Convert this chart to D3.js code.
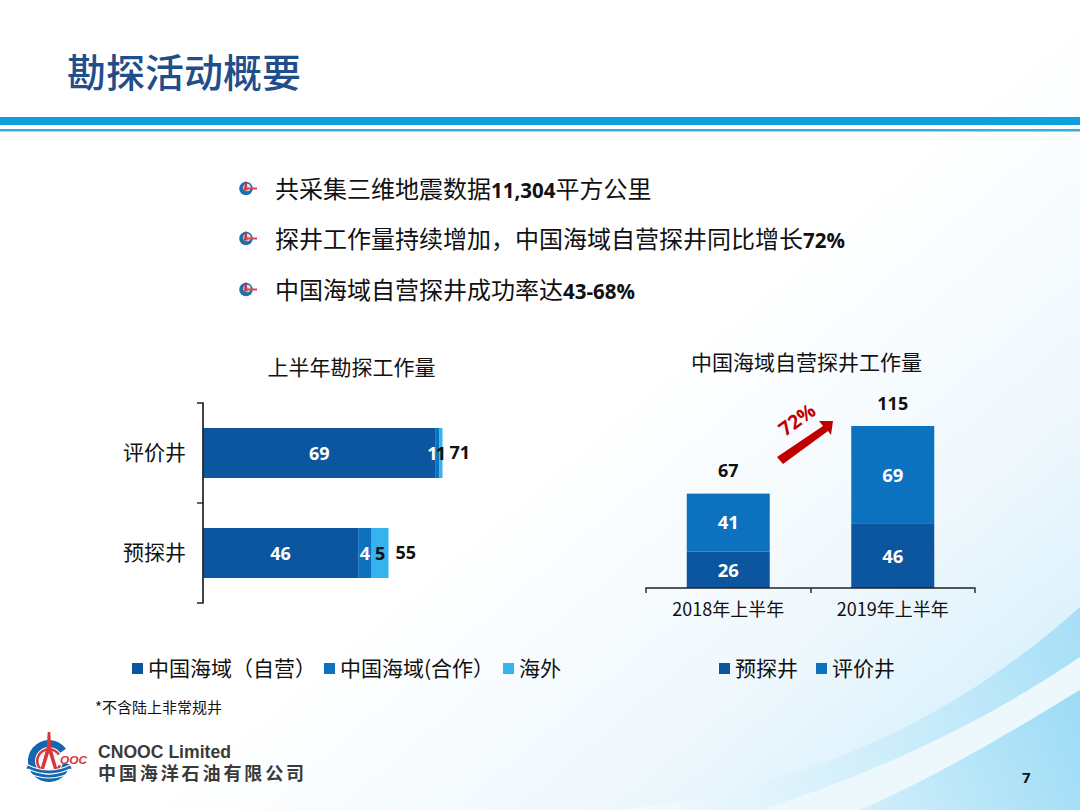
<!DOCTYPE html>
<html><head><meta charset="utf-8">
<script src="https://cdn.jsdelivr.net/npm/d3@7"></script>
<style>
html,body{margin:0;padding:0;background:#fff;overflow:hidden}
svg{display:block}
text{font-family:"Noto Sans CJK SC",sans-serif}
.num{font-family:"Open Sans",sans-serif;font-weight:700}
</style></head><body>
<svg id="slide" width="1080" height="810"></svg>
<script>
const slideTitle = "勘探活动概要";
const bulletParts = [
  [["共采集三维地震数据", false], ["11,304", true], ["平方公里", false]],
  [["探井工作量持续增加，中国海域自营探井同比增长", false], ["72%", true]],
  [["中国海域自营探井成功率达", false], ["43-68%", true]]
];
const hCategories = ["评价井", "预探井"];
const hSeriesNames = ["中国海域（自营）", "中国海域(合作）", "海外"];
const hOwn = [69, 46];
const hPartner = [1, 4];
const hOverseas = [1, 5];
const hTotals = [71, 55];
const vCategories = ["2018年上半年", "2019年上半年"];
const vSeriesNames = ["预探井", "评价井"];
const vExploration = [26, 46];
const vAppraisal = [41, 69];
const vTotals = [67, 115];
const growthLabel = "72%";
const footnote = "*不含陆上非常规井";
const colors = ["#0C56A0", "#0C72C0", "#36B2EC"];

const svg = d3.select("#slide");
const defs = svg.append("defs");

// Slide backdrop
const bg = defs.append("linearGradient").attr("id","bg").attr("x1","0.15").attr("y1","0.2").attr("x2","1").attr("y2","0.95");
[[0,"#ffffff"],[0.45,"#ffffff"],[0.72,"#f0f8fd"],[1,"#cfeefb"]].forEach(([o,c])=>bg.append("stop").attr("offset",o).attr("stop-color",c));
svg.append("rect").attr("width",1080).attr("height",810).attr("fill","url(#bg)");

const sw = defs.append("linearGradient").attr("id","sw").attr("gradientUnits","userSpaceOnUse")
  .attr("x1",560).attr("y1",810).attr("x2",1080).attr("y2",640);
[[0,"#ffffff"],[0.3,"#e6f5fc"],[0.7,"#c6ebfa"],[1,"#a8dff7"]].forEach(([o,c])=>sw.append("stop").attr("offset",o).attr("stop-color",c));
svg.append("path").attr("d","M1080,607 C970,705 830,785 620,810 L1080,810 Z").attr("fill","url(#sw)");
svg.append("path").attr("d","M1080,657 C980,725 870,775 760,810 L860,810 C930,780 1010,733 1080,690 Z").attr("fill","#edf8fd");
const sw2 = defs.append("linearGradient").attr("id","sw2").attr("gradientUnits","userSpaceOnUse")
  .attr("x1",860).attr("y1",810).attr("x2",1080).attr("y2",720);
[[0,"#d2effb"],[1,"#9edcf6"]].forEach(([o,c])=>sw2.append("stop").attr("offset",o).attr("stop-color",c));
svg.append("path").attr("d","M1080,690 C1010,733 930,780 860,810 L1080,810 Z").attr("fill","url(#sw2)");

// Header rules
svg.append("rect").attr("y",117).attr("width",1080).attr("height",8).attr("fill","#0E9FDC");
svg.append("rect").attr("y",129).attr("width",1080).attr("height",2.5).attr("fill","#35AEE0");
svg.append("text").attr("x",67).attr("y",87).attr("font-size",39).attr("font-weight",500).attr("fill","#1F4E8B").text(slideTitle);

// Bullets: a miniature of the company mark
const bulletY = [198, 248, 299];
bulletParts.forEach((parts,i)=>{
  const b = svg.append("g").attr("transform",`translate(246,${bulletY[i]-9.5})`);
  b.append("circle").attr("r",6.8).attr("fill","#1F6FAE");
  b.append("circle").attr("cx",1).attr("cy",-1).attr("r",3.8).attr("fill","#F2DADB");
  b.append("path").attr("d","M-1,-7 L0.5,-7 L1.5,2 L-2,2 Z").attr("fill","#C9303A");
  b.append("rect").attr("x",0).attr("y",-1).attr("width",11).attr("height",2).attr("fill","#D9464E");
  const t = svg.append("text").attr("x",275).attr("y",bulletY[i]).attr("font-size",24).attr("fill","#111");
  parts.forEach(([s,bold])=>{
    const sp = t.append("tspan").text(s);
    if(bold) sp.attr("class","num").attr("font-size",20.5);
  });
});

// Horizontal stacked bars
const hx = d3.scaleLinear().domain([0,71]).range([203,442.5]);
const hy = d3.scaleBand().domain(hCategories).range([403,603]).paddingInner(0).paddingOuter(0);
svg.append("text").attr("x",351.5).attr("y",375).attr("text-anchor","middle").attr("font-size",21).attr("fill","#111").text("上半年勘探工作量");
const hStack = d3.stack().keys([0,1,2]).value((d,k)=>d[k])(hCategories.map((c,i)=>[hOwn[i],hPartner[i],hOverseas[i]]));
hStack.forEach((layer,k)=>{
  svg.append("g").selectAll("rect").data(layer).join("rect")
    .attr("x",d=>hx(d[0])).attr("width",d=>hx(d[1])-hx(d[0]))
    .attr("y",(d,i)=>hy(hCategories[i])+25).attr("height",50).attr("fill",colors[k]);
});
hStack.forEach((layer,k)=>{
  svg.append("g").selectAll("text").data(layer).join("text").attr("class","num")
    .attr("x",d=>(hx(d[0])+hx(d[1]))/2-(k===1&&d[1]-d[0]===1?5:0)).attr("y",(d,i)=>hy(hCategories[i])+57)
    .attr("text-anchor","middle").attr("font-size",18)
    .attr("fill",k===2?"#111":"#fff").text(d=>d[1]-d[0]);
});
svg.append("g").selectAll("text").data(hTotals).join("text").attr("class","num")
  .attr("x",d=>hx(d)+7).attr("y",(d,i)=>hy(hCategories[i])+56)
  .attr("font-size",18).attr("fill","#111").text(d=>d);
const hAxis = svg.append("g").attr("transform","translate(203,0)")
  .call(d3.axisLeft(hy).tickSize(0).tickPadding(17));
hAxis.select(".domain").attr("stroke","#222").attr("stroke-width",1.7).attr("d","M-6,403 H0 V603 H-6");
hAxis.selectAll("text").attr("font-size",21).attr("fill","#111");
svg.append("path").attr("d","M197,503 H203").attr("stroke","#222").attr("stroke-width",1.4);

// Vertical stacked bars
const vx = d3.scaleBand().domain(vCategories).range([646,975]).paddingInner(0).paddingOuter(0);
const vy = d3.scaleLinear().domain([0,115]).range([588,426]);
svg.append("text").attr("x",806.5).attr("y",370).attr("text-anchor","middle").attr("font-size",21).attr("fill","#111").text("中国海域自营探井工作量");
const vStack = d3.stack().keys([0,1]).value((d,k)=>d[k])(vCategories.map((c,i)=>[vExploration[i],vAppraisal[i]]));
vStack.forEach((layer,k)=>{
  svg.append("g").selectAll("rect").data(layer).join("rect")
    .attr("x",(d,i)=>vx(vCategories[i])+vx.bandwidth()/2-41.5).attr("width",83)
    .attr("y",d=>vy(d[1])).attr("height",d=>vy(d[0])-vy(d[1])).attr("fill",colors[k]);
  svg.append("g").selectAll("text").data(layer).join("text").attr("class","num")
    .attr("x",(d,i)=>vx(vCategories[i])+vx.bandwidth()/2).attr("y",d=>(vy(d[0])+vy(d[1]))/2+7)
    .attr("text-anchor","middle").attr("font-size",18.5).attr("fill","#fff").text(d=>d[1]-d[0]);
});
svg.append("g").selectAll("text").data(vTotals).join("text").attr("class","num")
  .attr("x",(d,i)=>vx(vCategories[i])+vx.bandwidth()/2).attr("y",d=>vy(d)-16.5)
  .attr("text-anchor","middle").attr("font-size",18).attr("fill","#111").text(d=>d);
const vAxis = svg.append("g").attr("transform","translate(0,588)")
  .call(d3.axisBottom(vx).tickSize(0).tickPadding(15));
vAxis.select(".domain").attr("stroke","#222").attr("stroke-width",1.4).attr("d","M646,5 V0 H975 V5");
vAxis.selectAll("text").attr("font-size",18).attr("fill","#111");
svg.append("path").attr("d","M811,588 V593").attr("stroke","#222").attr("stroke-width",1.4);

// Growth arrow
svg.append("path").attr("d","M777,457 L823,426 L819,421 L833,421 L831,435 L828,431 L783,464 Z").attr("fill","#C00000");
svg.append("text").attr("transform","translate(785,437) rotate(-36)").attr("class","num").attr("font-size",19.5).attr("fill","#C00000").text(growthLabel);

// Legends
function legend(items, cols){
  items.forEach(([x,label],i)=>{
    svg.append("rect").attr("x",x).attr("y",663).attr("width",11).attr("height",11).attr("fill",cols[i]);
    svg.append("text").attr("x",x+16).attr("y",676).attr("font-size",21).attr("fill","#111").text(label);
  });
}
legend([[132,hSeriesNames[0]],[324,hSeriesNames[1]],[503,hSeriesNames[2]]], colors);
legend([[719,vSeriesNames[0]],[816,vSeriesNames[1]]], colors);

svg.append("text").attr("x",95).attr("y",713).attr("font-size",15).attr("fill","#111").text(footnote);

// Corporate signature: open blue ring, red inner ring and derrick, waves, lettering
const logo = svg.append("g").attr("transform","translate(49,761)");
const ring = d3.arc();
logo.append("path").attr("d",ring({innerRadius:14,outerRadius:21,startAngle:Math.PI*0.55,endAngle:Math.PI*2.3})).attr("fill","#1466AE");
logo.append("path").attr("d",ring({innerRadius:10.5,outerRadius:13,startAngle:Math.PI*0.62,endAngle:Math.PI*2.32})).attr("fill","#D8353C");
logo.append("path").attr("d","M-1.3,-29 L1.3,-29 L2.2,-14 L9,10 L5.5,10 L0,-8 L-5.5,10 L-9,10 L-2.2,-14 Z").attr("fill","#D8353C");
// Waves sweep across the lower half of the ring
[[9,3.2,"#1466AE",22],[13.5,2.6,"#1466AE",17]].forEach(([dy,w,c,x])=>{
  logo.append("path").attr("d",`M${-x},${dy-3} Q0,${dy+6} ${x},${dy-3}`).attr("fill","none").attr("stroke",c).attr("stroke-width",w);
});
[[8,1.2],[12,1.2],[16,1.1]].forEach(([dy,w])=>{
  logo.append("path").attr("d",`M-21,${dy-4} Q0,${dy+6} 21,${dy-4}`).attr("fill","none").attr("stroke","#fff").attr("stroke-width",w);
});
svg.append("text").attr("x",60).attr("y",764).attr("style",'font-family:"Liberation Sans"').attr("font-weight",700).attr("font-style","italic").attr("font-size",11).attr("textLength",27).attr("lengthAdjust","spacingAndGlyphs").attr("fill","#D8353C").text("OOC");
svg.append("text").attr("x",98).attr("y",758).attr("style",'font-family:"Liberation Sans"').attr("font-size",17.6).attr("font-weight",700).attr("fill","#3a3a3a").text("CNOOC Limited");
svg.append("text").attr("x",98).attr("y",780).attr("font-size",18).attr("font-weight",700).attr("letter-spacing",2.9).attr("fill","#3a3a3a").text("中国海洋石油有限公司");
svg.append("text").attr("class","num").attr("x",1022).attr("y",783).attr("font-size",15).attr("fill","#111").text("7");
</script></body></html>
